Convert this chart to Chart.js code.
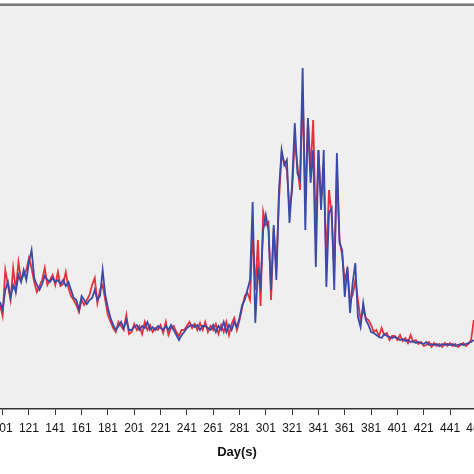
<!DOCTYPE html>
<html><head><meta charset="utf-8">
<script src="https://cdn.jsdelivr.net/npm/chart.js@4"></script>
<style>html,body{margin:0;padding:0;background:#fff}#w{width:474px;height:474px}</style>
</head><body><div id="w"><canvas id="c" width="474" height="474"></canvas></div>
<script>
const days = [];
for (let d = 99; d <= 459; d += 2) days.push(d);
const tickLabels = [101,121,141,161,181,201,221,241,261,281,301,321,341,361,381,401,421,441,461];
const blueValues = [
107,99,119,127,111,124,117,134,127,139,
129,147,159,131,124,119,125,133,129,127,
131,127,129,125,129,123,127,119,111,109,
99,113,109,105,109,111,119,109,113,139,
114,101,91,84,79,83,87,81,89,79,
79,82,84,79,83,81,87,79,82,79,
83,81,79,83,79,84,79,74,69,74,
77,81,83,84,82,84,79,83,83,81,
79,84,77,83,79,87,77,84,79,87,
82,91,104,109,119,129,207,86,139,124,
179,194,179,119,184,129,219,259,244,249,
186,226,286,236,229,341,179,291,226,259,
142,259,199,259,122,196,201,119,256,166,
159,112,142,96,126,146,92,82,106,89,
84,77,76,74,72,71,75,73,72,71,
72,71,69,70,68,69,67,68,66,67,
66,65,67,64,65,64,65,63,65,64,
65,64,65,63,64,65,64,65,66,67,69];
const redValues = [
104,93,139,124,109,141,119,147,129,134,
139,151,141,127,117,123,129,141,124,129,
134,124,137,123,125,137,121,113,109,104,
97,109,104,109,114,124,131,106,119,124,
109,94,87,81,77,87,83,79,94,75,
77,85,79,83,75,87,79,84,77,81,
79,84,76,87,74,81,83,77,73,79,
79,83,87,81,85,79,86,79,87,77,
83,79,85,75,84,77,87,74,85,91,
79,89,101,113,116,109,179,119,169,103,
197,184,187,109,181,139,209,254,247,239,
199,219,269,244,219,319,209,289,239,289,
179,259,209,234,149,219,194,139,239,169,
154,129,139,109,114,129,109,89,99,91,
89,84,77,79,73,81,74,76,69,73,
73,69,74,68,71,66,74,67,69,65,
67,63,64,67,62,66,63,65,62,66,
63,66,63,65,62,64,66,63,65,69,89];

const bg = {
  id:'bg',
  beforeDraw(ch){
    const {ctx, chartArea:a} = ch;
    ctx.save();
    ctx.fillStyle = '#efefef';
    ctx.fillRect(a.left, a.top, a.right-a.left, a.bottom-a.top);
    ctx.fillStyle = '#7a7a7a';
    ctx.fillRect(a.left, a.top-2, a.right-a.left, 2);
    ctx.fillStyle = '#b0b0b0';
    ctx.fillRect(a.left, a.top-3, a.right-a.left, 1);
    ctx.restore();
  }
};

new Chart(document.getElementById('c'), {
  type:'line',
  data:{
    labels: days,
    datasets:[
      {label:'Blue', data: blueValues, borderColor:'#3a4aa8', borderWidth:1.8, pointRadius:0, tension:0},
      {label:'Red', data: redValues, borderColor:'#e8303a', borderWidth:1.8, pointRadius:0, tension:0}
    ]
  },
  options:{
    responsive:false, animation:false,
    layout:{padding:{top:6,left:0,right:0,bottom:10}},
    plugins:{legend:{display:false}, tooltip:{enabled:false}},
    scales:{
      x:{
        type:'linear', min:99, max:459.2,
        afterBuildTicks(s){ s.ticks = tickLabels.map(v=>({value:v})); },
        afterFit(s){ s.paddingLeft = 0; s.paddingRight = 0; },
        ticks:{autoSkip:false, maxRotation:0, color:'#111', font:{family:'Liberation Sans', size:12}, padding:6, callback:v=>String(v)},
        grid:{drawOnChartArea:false, drawTicks:true, tickLength:6, color:'#333', lineWidth:1},
        border:{display:true, color:'#333', width:1.5},
        title:{display:true, text:'Day(s)', color:'#111', font:{family:'Liberation Sans', size:13, weight:'bold'}, padding:{top:3}}
      },
      y:{display:false, min:0, max:403}
    }
  },
  plugins:[bg]
});
</script></body></html>
